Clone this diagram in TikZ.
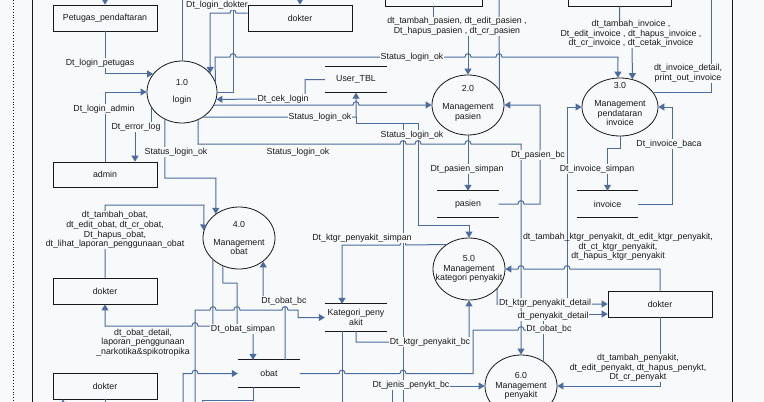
\documentclass[tikz,border=0pt]{standalone}
\usepackage{fontspec}
\setmainfont{Liberation Sans}
\usetikzlibrary{shapes.geometric,arrows.meta}
\definecolor{bgc}{RGB}{248,249,250}
\definecolor{flowc}{RGB}{74,108,160}
\definecolor{inkc}{RGB}{25,25,25}
\newcommand\hpR[2]{-- ({#1-3},{#2}) .. controls ({#1-3},{#2-4.5}) and ({#1+3},{#2-4.5}) .. ({#1+3},{#2})}
\newcommand\hpL[2]{-- ({#1+3},{#2}) .. controls ({#1+3},{#2-4.5}) and ({#1-3},{#2-4.5}) .. ({#1-3},{#2})}
\newcommand\storelines[1]{\draw[storeline] (#1.north west) -- (#1.north east) (#1.south west) -- (#1.south east);}
\begin{document}
\begin{tikzpicture}[x=1pt,y=-1pt,
  every node/.style={font=\fontsize{8.8}{9.6}\selectfont, text=inkc},
  entity/.style={draw=inkc, line width=0.8pt, fill=bgc, minimum width=104pt, minimum height=26pt, inner sep=0pt},
  proc/.style={ellipse, draw=inkc, line width=0.8pt, fill=bgc, inner sep=0pt},
  store/.style={minimum width=62pt, minimum height=26pt, inner sep=0pt, align=center},
  storeline/.style={draw=inkc, line width=0.9pt},
  flow/.style={draw=flowc, line width=1pt, -{Triangle[length=6pt,width=7pt]}},
  plain/.style={draw=flowc, line width=1pt},
  lbl/.style={fill=bgc, inner sep=0.6pt, align=center},
  txt/.style={inner sep=0pt, align=center},
  frame/.style={draw=inkc, line width=0.9pt}
]
\useasboundingbox (0,0) rectangle (764,402);
\clip (0,0) rectangle (764,402);
\fill[bgc] (0,0) rectangle (764,402);
\draw[frame, dotted] (13,0) -- (13,402);
\draw[frame] (32,0) -- (32,402);
\draw[frame] (732,0) -- (732,402);

% entities
\node[entity] (pet) at (105,18) {Petugas\_pendaftaran};
\node[entity] (dk1) at (300,18) {dokter};
\node[entity, minimum width=97pt] (bxa) at (433.5,-7) {};
\node[entity, minimum width=103pt] (bxb) at (619.5,-7) {};
\node[entity, minimum height=25pt] (adm) at (105,174.5) {admin};
\node[entity] (dk2) at (105,291) {dokter};
\node[entity] (dk3) at (105,386) {dokter};
\node[entity] (dk4) at (660,304) {dokter};

% processes
\node[proc, minimum width=70pt, minimum height=62pt, label={[txt]center:{1.0\\[8pt]login}}] (l1) at (182,92) {};
\node[proc, minimum width=72pt, minimum height=60pt, label={[txt,yshift=1.5pt]center:{2.0\\[8.4pt]Management\\pasien}}] (p2) at (468,105) {};
\node[proc, minimum width=76pt, minimum height=58pt, label={[txt,yshift=3pt]center:{3.0\\[8.4pt]Management\\pendataran\\invoice}}] (p3) at (620,107) {};
\node[proc, minimum width=72pt, minimum height=62pt, label={[txt]center:{4.0\\[8.4pt]Management\\obat}}] (p4) at (239,238) {};
\node[proc, minimum width=72pt, minimum height=62pt, label={[txt]center:{5.0\\Management\\kategori penyakit}}] (p5) at (469,269) {};
\node[proc, minimum width=72pt, minimum height=62pt, label={[txt]center:{6.0\\Management\\penyakit}}] (p6) at (521,386) {};

% data stores
\node[store] (us) at (356,79.5) {User\_TBL};
\node[store, minimum width=61pt] (pas) at (468,204) {pasien};
\node[store, minimum width=61pt] (inv) at (607.5,204) {invoice};
\node[store, minimum height=27pt] (kat) at (356,317.5) {Kategori\_peny\\akit};
\node[store, minimum height=27pt] (ob) at (269,373.5) {obat};
\storelines{us}\storelines{pas}\storelines{inv}\storelines{kat}\storelines{ob}

% free ends and junctions
\coordinate (tp1) at (105,-10);
\coordinate (tp2) at (300,-10);
\coordinate (top182) at (182,0);
\coordinate (top233) at (233,0);
\coordinate (top499) at (499,0);
\coordinate (top711) at (711,0);
\coordinate (j1) at (356,117);
\coordinate (j2) at (403,123);
\coordinate (b403) at (403,402);
\coordinate (j3) at (567,304);
\coordinate (b392) at (392,402);
\coordinate (b342) at (342,402);
\coordinate (b195) at (195,402);
\coordinate (b183) at (183,402);
\coordinate (b202) at (202,402);
\coordinate (b63) at (63,410);
\coordinate (b105) at (105,402);

% connectors
\draw[flow] (tp1) -- (pet.north);
\draw[flow] (tp2) -- (dk1.north);
\draw[flow] (pet.south) |- (l1.148);
\draw[flow] (adm.north) |- (l1.west);
\draw[flow] (l1.208) |- (135,127) -- ([xshift=30pt]adm.north);
\draw[flow] (l1.238) |- (216,178) -- (p4.134);
\draw[flow] (l1.-60) -- (198,144) \hpR{403}{144} \hpR{418}{144} \hpR{468}{144} -- (521,144) -- (p6.north);
\draw[flow] (l1.-22) \hpR{356}{105} -- (p2.west);
\draw[flow] (us.west) -| (305,99) -- (l1.-12);
\draw[flow] (l1.-50) -- (j1) -- (us.south);
\draw[flow] (j1) -- (356,123) -- (418,123) -- (418,225) -- (469,225) -- (p5.north);
\draw[plain] (j2) -- (b403);
\draw[plain] (l1.east) -- (233,92) -- (top233);
\draw[plain] (l1.north) -- (top182);
\draw[flow] ([yshift=5pt]dk1.west) \hpL{233}{13} -- (210,13) -- (l1.34);
\draw[flow] (l1.17) -- (215,57) \hpR{233}{57} \hpR{468}{57} \hpR{499}{57} -- (618,57) -- (p3.94);
\draw[flow] (bxa.south) |- (468,27) -- (p2.north);
\draw[plain] (top499) -- (p2.26);
\draw[flow] (bxb.south) |- (632,34) -- (p3.66);
\draw[plain] (p3.23) -| (top711);
\draw[flow] (p2.south) -- (pas.north);
\draw[flow] (pas.east) \hpR{521}{204} -- (540,204) -- (540,105) -- (p2.east);
\draw[flow] (p3.south) |- (607.5,148) -- (inv.north);
\draw[flow] (inv.east) -| (672,107) -- (p3.east);
\draw[flow] (j3) -- (567,107) -- (p3.west);
\draw[flow] (dk4.north) -- (660,269) \hpL{567}{269} \hpL{521}{269} -- (p5.east);
\draw[flow] (p5.-35) -- (497,304) \hpR{521}{304} -- (dk4.west);
\draw[flow] (p6.48) |- ([yshift=-10pt]dk4.west);
\draw[plain] (ob.east) \hpR{342}{373.5} \hpR{403}{373.5} -- (473,373.5) -- (473,330) \hpR{521}{330} -- (543,330);
\draw[flow] (b392) |- (p6.west);
\draw[flow] (p5.133) \hpL{403}{245} -- (342,245) -- ([xshift=-14pt]kat.north);
\draw[flow] (kat.south) -- (356,342) \hpR{403}{342} -- (469,342) -- (p5.south);
\draw[plain] ([xshift=-14pt]kat.south) -- (b342);
\draw[flow] (b195) -- (195,310) \hpR{213}{310} \hpR{237}{310} \hpR{285}{310} -- (298,310) -- (298,317.5) -- (kat.west);
\draw[flow] (p4.220) -- (213,326) \hpL{195}{326} -- (105,326) -- (dk2.south);
\draw[flow] (p4.240) -- (223,283) -- (237,283) -- (237,329) -- (253,329) -- ([xshift=-16pt]ob.north);
\draw[flow] ([xshift=16pt]ob.north) |- (263,301) -- (p4.-44);
\draw[flow] (b183) -- (183,373.5) \hpR{195}{373.5} -- (ob.west);
\draw[plain] ([xshift=-16pt]ob.south) -- (253,400) -- (202,400) -- (b202);
\draw[flow] (b63) -- ([xshift=-42pt]dk3.south);
\draw[plain] (dk3.south) -- (b105);
\draw[flow] (dk2.north) |- (204,205) -- (p4.168);
\draw[flow] (dk4.south) |- (p6.east);

% labels
\node[lbl] (lDd) at (217,5) {Dt\_login\_dokter};
\node[lbl] (lPet) at (100,63) {Dt\_login\_petugas};
\node[lbl] (lAdm) at (104,109) {Dt\_login\_admin};
\node[lbl] (lErr) at (136,127) {Dt\_error\_log};
\node[lbl] (lS1) at (176,152) {Status\_login\_ok};
\node[lbl] (lS2) at (412,57) {Status\_login\_ok};
\node[lbl] (lCek) at (283,99) {Dt\_cek\_login};
\node[lbl] (lS3) at (320,117) {Status\_login\_ok};
\node[lbl] (lS4) at (412,135) {Status\_login\_ok};
\node[lbl] (lS5) at (298,152) {Status\_login\_ok};
\node[lbl] (lPas) at (457,26.5) {dt\_tambah\_pasien, dt\_edit\_pasien ,\\Dt\_hapus\_pasien , dt\_cr\_pasien};
\node[lbl] (lInv) at (631,34) {dt\_tambah\_invoice ,\\Dt\_edit\_invoice , dt\_hapus\_invoice ,\\dt\_cr\_invoice , dt\_cetak\_invoice};
\node[lbl] (lInvD) at (688,73.5) {dt\_invoice\_detail,\\print\_out\_invoice};
\node[lbl] (lInvB) at (669,144) {Dt\_invoice\_baca};
\node[lbl] (lInvS) at (597,169) {Dt\_invoice\_simpan};
\node[lbl] (lPasS) at (467,169) {Dt\_pasien\_simpan};
\node[lbl] (lPasB) at (538,155) {Dt\_pasien\_bc};
\node[lbl] (lObt) at (115,230) {dt\_tambah\_obat,\\dt\_edit\_obat, dt\_cr\_obat,\\Dt\_hapus\_obat,\\dt\_lihat\_laporan\_penggunaan\_obat};
\node[lbl] (lKS) at (362,238) {Dt\_ktgr\_penyakit\_simpan};
\node[txt] (lKtgr) at (618,247) {dt\_tambah\_ktgr\_penyakit, dt\_edit\_ktgr\_penyakit,\\dt\_ct\_ktgr\_penyakit,\\dt\_hapus\_ktgr\_penyakit};
\node[lbl] (lObB) at (284,301) {Dt\_obat\_bc};
\node[lbl] (lKB) at (430,342) {Dt\_ktgr\_penyakit\_bc};
\node[lbl] (lObS) at (243,329) {Dt\_obat\_simpan};
\node[txt] (lObD) at (143,342.5) {dt\_obat\_detail,\\laporan\_penggunaan\\\_narkotika\&spikotropika};
\node[lbl] (lKD) at (545,303) {Dt\_ktgr\_penyakit\_detail};
\node[lbl] (lPD) at (553,316) {dt\_penyakit\_detail};
\node[lbl] (lOB2) at (549,329) {Dt\_obat\_bc};
\node[lbl] (lJB) at (411,385) {Dt\_jenis\_penykt\_bc};
\node[lbl] (lPen) at (638,368) {dt\_tambah\_penyakit,\\dt\_edit\_penyakt, dt\_hapus\_penykt,\\Dt\_cr\_penyakt};
\end{tikzpicture}
\end{document}
